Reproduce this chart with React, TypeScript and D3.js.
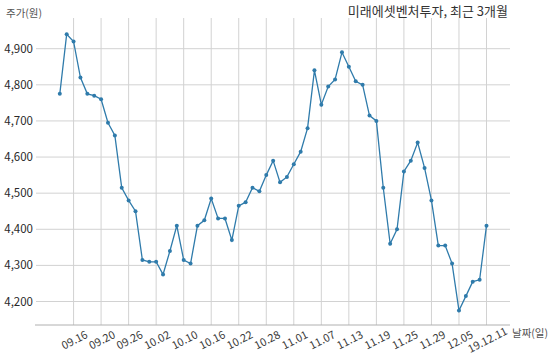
import React from "react";
import * as d3 from "d3";

const dates: string[] = [
  "09.10", "09.11", "09.16", "09.17", "09.18", "09.19", "09.20", "09.23", "09.24", "09.25",
  "09.26", "09.27", "09.30", "10.01", "10.02", "10.04", "10.07", "10.08", "10.10", "10.11",
  "10.14", "10.15", "10.16", "10.17", "10.18", "10.21", "10.22", "10.23", "10.24", "10.25",
  "10.28", "10.29", "10.30", "10.31", "11.01", "11.04", "11.05", "11.06", "11.07", "11.08",
  "11.11", "11.12", "11.13", "11.14", "11.15", "11.18", "11.19", "11.20", "11.21", "11.22",
  "11.25", "11.26", "11.27", "11.28", "11.29", "12.02", "12.03", "12.04", "12.05", "12.06",
  "12.09", "12.10", "12.11",
];

const prices: number[] = [
  4775, 4940, 4920, 4820, 4775, 4770, 4760, 4695, 4660, 4515,
  4480, 4450, 4315, 4310, 4310, 4275, 4340, 4410, 4315, 4305,
  4410, 4425, 4485, 4430, 4430, 4370, 4465, 4475, 4515, 4505,
  4550, 4590, 4530, 4545, 4580, 4615, 4680, 4840, 4745, 4795,
  4815, 4890, 4850, 4810, 4800, 4715, 4700, 4515, 4360, 4400,
  4560, 4590, 4640, 4570, 4480, 4355, 4355, 4305, 4175, 4215,
  4255, 4260, 4410,
];

const tickDates: string[] = [
  "09.16", "09.20", "09.26", "10.02", "10.10", "10.16", "10.22", "10.28",
  "11.01", "11.07", "11.13", "11.19", "11.25", "11.29", "12.05", "12.11",
];
const tickLabels: string[] = [
  "09.16", "09.20", "09.26", "10.02", "10.10", "10.16", "10.22", "10.28",
  "11.01", "11.07", "11.13", "11.19", "11.25", "11.29", "12.05", "19.12.11",
];

const yTicks: number[] = [4200, 4300, 4400, 4500, 4600, 4700, 4800, 4900];

const title = "미래에셋벤처투자, 최근 3개월";
const yTitle = "주가(원)";
const xTitle = "날짜(일)";

const FONT = "'Noto Sans CJK KR', 'Noto Sans', sans-serif";

export default function App() {
  const W = 550;
  const H = 360;
  const plotTop = 18;
  const plotBottom = 325;
  const plotLeft = 36;
  const plotRight = 510;

  const x = d3.scalePoint<string>().domain(dates).range([59.8, 486.5]).padding(0);
  const y = d3.scaleLinear().domain([4135, 4985]).range([plotBottom, plotTop]);

  const line = d3
    .line<number>()
    .x((_, i) => x(dates[i]) as number)
    .y((d) => y(d));

  const fmt = d3.format(",");
  const color = "#2f7bab";

  return (
    <svg
      width={W}
      height={H}
      style={{ position: "absolute", left: 0, top: 0, background: "#fff" }}
      fontFamily={FONT}
    >
      {yTicks.map((t) => (
        <line key={"h" + t} x1={plotLeft} x2={plotRight} y1={y(t)} y2={y(t)} stroke="#d2d2d2" strokeWidth={1} />
      ))}
      {tickDates.map((d) => (
        <line key={"v" + d} x1={x(d)} x2={x(d)} y1={plotTop} y2={plotBottom} stroke="#d2d2d2" strokeWidth={1} />
      ))}
      <line x1={35} x2={plotRight} y1={plotBottom} y2={plotBottom} stroke="#b0b0b0" strokeWidth={1} />

      {yTicks.map((t) => (
        <text key={"yl" + t} x={33} y={y(t)} dy="0.35em" textAnchor="end" fontSize={11.5} fill="#2a2a2a">
          {fmt(t)}
        </text>
      ))}

      {tickDates.map((d, i) => {
        const cx = (x(d) as number) + 1;
        const cy = 340;
        return (
          <text
            key={"xl" + d}
            x={cx}
            y={cy}
            dy="0.35em"
            textAnchor="middle"
            fontSize={11}
            fill="#3a3a3a"
            transform={`rotate(-27 ${cx} ${cy})`}
          >
            {tickLabels[i]}
          </text>
        );
      })}

      <path d={line(prices) || ""} fill="none" stroke={color} strokeWidth={1.3} />
      {prices.map((p, i) => (
        <circle key={"c" + i} cx={x(dates[i])} cy={y(p)} r={2} fill={color} />
      ))}

      <text x={508} y={16} textAnchor="end" fontSize={13} fill="#333">
        {title}
      </text>
      <text x={6} y={17} fontSize={10.5} fill="#555">
        {yTitle}
      </text>
      <text x={512} y={333} dy="0.35em" fontSize={10.5} fill="#555">
        {xTitle}
      </text>
    </svg>
  );
}
